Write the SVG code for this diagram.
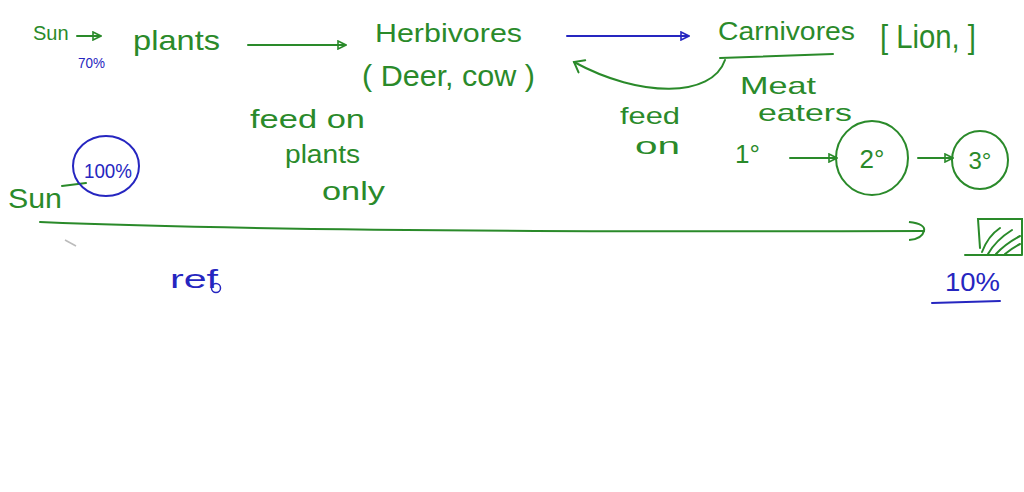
<svg xmlns="http://www.w3.org/2000/svg" width="1024" height="492" viewBox="0 0 1024 492">
<style>
.g{fill:#2a8a2a;font-family:"Liberation Sans",sans-serif;}
.b{fill:#2626c0;font-family:"Liberation Sans",sans-serif;}
.sg{stroke:#2a8a2a;stroke-width:2;fill:none;stroke-linecap:round;}
.sb{stroke:#2626c0;stroke-width:2;fill:none;stroke-linecap:round;}
</style>
<defs>
<marker id="ag" markerWidth="10" markerHeight="10" refX="8" refY="5" orient="auto" markerUnits="userSpaceOnUse">
<path d="M1,1 L9,5 L1,9 z" fill="none" stroke="#2a8a2a" stroke-width="1.6"/>
</marker>
<marker id="ab" markerWidth="10" markerHeight="10" refX="8" refY="5" orient="auto" markerUnits="userSpaceOnUse">
<path d="M1,1 L9,5 L1,9 z" fill="none" stroke="#2626c0" stroke-width="1.6"/>
</marker>
<marker id="ac" markerWidth="16" markerHeight="16" refX="12" refY="8" orient="auto" markerUnits="userSpaceOnUse">
<path d="M3,1 L12,8 L3,15" fill="none" stroke="#2a8a2a" stroke-width="2" stroke-linecap="round"/>
</marker>
<marker id="abig" markerWidth="22" markerHeight="22" refX="18" refY="11" orient="auto" markerUnits="userSpaceOnUse">
<path d="M3,2 Q20,4 18,11 Q16,19 3,20" fill="none" stroke="#2a8a2a" stroke-width="2"/>
</marker>
</defs>
<rect width="1024" height="492" fill="#ffffff"/>

<g id="connectors">
<line class="sg" x1="77" y1="36" x2="100" y2="36" marker-end="url(#ag)"/>
<line class="sg" x1="248" y1="45" x2="345" y2="45" marker-end="url(#ag)"/>
<line class="sb" x1="567" y1="36" x2="688" y2="36" marker-end="url(#ab)"/>
<path class="sg" d="M725,60 C712,98 640,98 574,62" marker-end="url(#ac)"/>
<line class="sg" x1="790" y1="158" x2="836" y2="158" marker-end="url(#ag)"/>
<line class="sg" x1="918" y1="158" x2="952" y2="158" marker-end="url(#ag)"/>
<line class="sg" x1="62" y1="186" x2="86" y2="183"/>
<path class="sg" d="M40,222 Q300,233 924,231" marker-end="url(#abig)"/>
</g>

<g id="sun-top"><text class="g" x="33" y="40" font-size="20">Sun</text></g>
<g id="pct70"><text class="b" x="78" y="68" font-size="15" textLength="27" lengthAdjust="spacingAndGlyphs">70%</text></g>
<g id="plants"><text class="g" x="133" y="50" font-size="28" textLength="87" lengthAdjust="spacingAndGlyphs">plants</text></g>
<g id="herbivores">
<text class="g" x="375" y="42" font-size="26" textLength="147" lengthAdjust="spacingAndGlyphs">Herbivores</text>
<text class="g" x="362" y="86" font-size="30" textLength="173" lengthAdjust="spacingAndGlyphs">( Deer, cow )</text>
</g>
<g id="carnivores">
<text class="g" x="718" y="40" font-size="26" textLength="137" lengthAdjust="spacingAndGlyphs">Carnivores</text>
<path class="sg" d="M720,58 L833,54"/>
<text class="g" x="880" y="48" font-size="34" textLength="96" lengthAdjust="spacingAndGlyphs">[ Lion, ]</text>
</g>
<g id="meat-eaters">
<text class="g" x="740" y="94" font-size="24" textLength="76" lengthAdjust="spacingAndGlyphs">Meat</text>
<text class="g" x="758" y="121" font-size="24" textLength="94" lengthAdjust="spacingAndGlyphs">eaters</text>
</g>
<g id="feed-on">
<text class="g" x="620" y="124" font-size="24" textLength="60" lengthAdjust="spacingAndGlyphs">feed</text>
<text class="g" x="635" y="154" font-size="24" textLength="45" lengthAdjust="spacingAndGlyphs">on</text>
</g>
<g id="primary"><text class="g" x="735" y="163" font-size="26">1°</text></g>
<g id="secondary">
<ellipse class="sg" cx="872" cy="158" rx="36" ry="37"/>
<text class="g" x="872" y="168" font-size="26" text-anchor="middle">2°</text>
</g>
<g id="tertiary">
<ellipse class="sg" cx="980" cy="160" rx="28" ry="29"/>
<text class="g" x="980" y="169" font-size="24" text-anchor="middle">3°</text>
</g>
<g id="feed-on-plants">
<text class="g" x="250" y="128" font-size="26" textLength="115" lengthAdjust="spacingAndGlyphs">feed on</text>
<text class="g" x="285" y="163" font-size="26" textLength="75" lengthAdjust="spacingAndGlyphs">plants</text>
<text class="g" x="322" y="200" font-size="26" textLength="63" lengthAdjust="spacingAndGlyphs">only</text>
</g>
<g id="sun-bottom"><text class="g" x="8" y="208" font-size="28" textLength="54" lengthAdjust="spacingAndGlyphs">Sun</text></g>
<g id="pct100">
<ellipse class="sb" cx="106" cy="166" rx="33" ry="30"/>
<text class="b" x="84" y="178" font-size="20" textLength="48" lengthAdjust="spacingAndGlyphs">100%</text>
</g>
<line x1="65" y1="240" x2="76" y2="246" stroke="#bbbbbb" stroke-width="1.5"/>
<g id="ref">
<text class="b" x="170" y="288" font-size="26" textLength="48" lengthAdjust="spacingAndGlyphs">ref</text>
<circle cx="216" cy="288" r="4.5" fill="none" stroke="#2626c0" stroke-width="1.5"/>
</g>
<g id="box">
<path class="sg" d="M980,248 L978,219 L1022,219 L1022,255 M965,255 L1022,255"/>
<path class="sg" d="M982,252 Q988,236 1000,228 M988,254 Q996,240 1012,230 M996,254 Q1005,244 1020,236 M1005,254 Q1012,248 1020,244"/>
</g>
<g id="pct10">
<text class="b" x="945" y="291" font-size="26" textLength="55" lengthAdjust="spacingAndGlyphs">10%</text>
<path class="sb" d="M932,303 L1000,301" stroke-width="3"/>
</g>
</svg>
